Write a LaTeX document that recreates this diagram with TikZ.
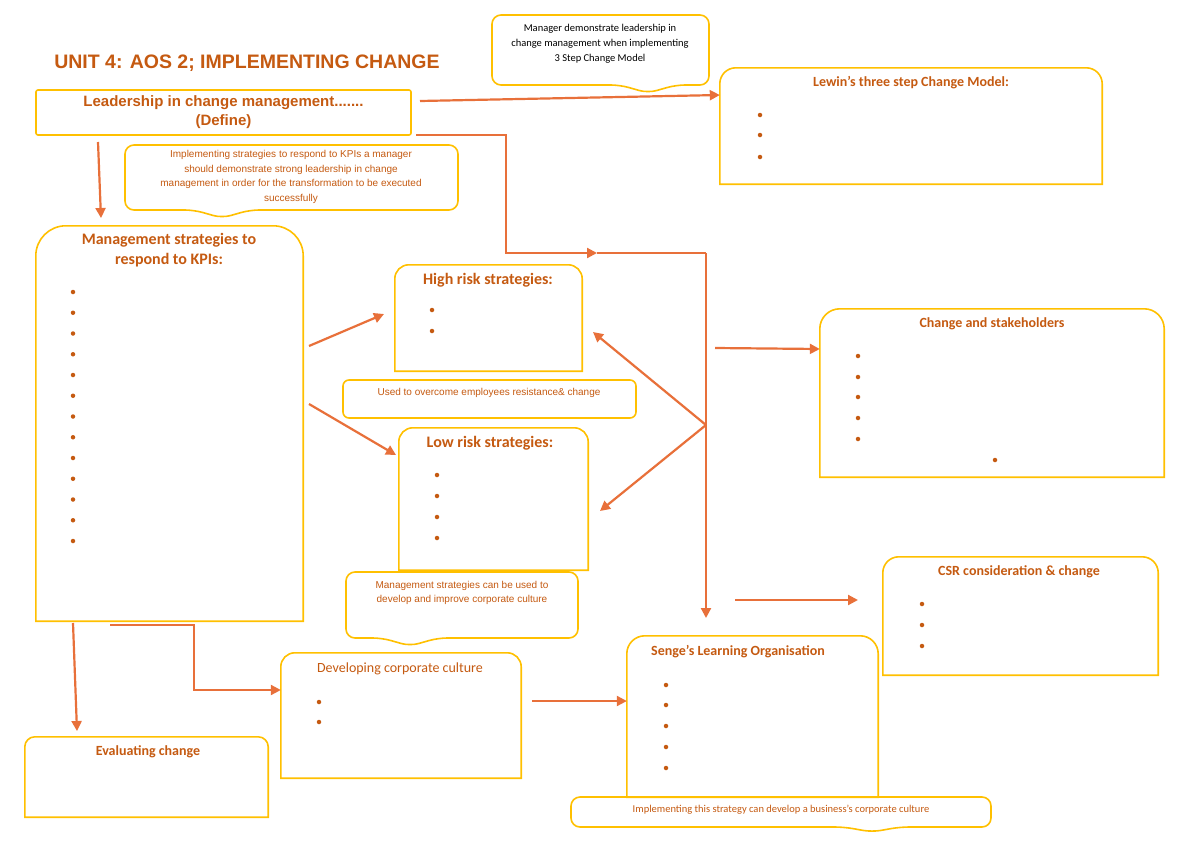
\documentclass[tikz,border=0pt]{standalone}
\usepackage{fontspec}
\setmainfont{Carlito}
\newfontfamily\arialfont{Liberation Sans}
\usetikzlibrary{arrows.meta}
\definecolor{boxcol}{HTML}{FFC000}
\definecolor{txtcol}{HTML}{C55A11}
\definecolor{arrcol}{HTML}{E8703A}
\newcommand{\topbox}[2]{% box with rounded top corners
  \draw[boxline] (#1.south west) [rounded corners=#2] -- (#1.north west) -- (#1.north east) [sharp corners] -- (#1.south east) -- cycle;}
\newcommand{\callout}[6]{% x1 y1 x2 y2 tipx tipy
  \draw[boxline, rounded corners=9pt] (#1,#2) -- (#3,#2) -- (#3,#4) -- (#5+28,#4) -- (#5,#6) -- (#5-28,#4) -- (#1,#4) -- cycle;}
\tikzset{
  boxline/.style={draw=boxcol, line width=1.6pt},
  area/.style={inner sep=0pt, minimum width=#1},
  ttl/.style={text=txtcol, font=\bfseries\fontsize{14}{16}\selectfont, align=center},
  note/.style={text=txtcol, font=\arialfont\fontsize{10}{14.5}\selectfont, align=center},
  bul/.style={circle, fill=txtcol, inner sep=0pt, minimum size=4.5pt},
  link/.style={draw=arrcol, line width=2.2pt, -{Triangle[length=10pt,width=10pt]}},
  seg/.style={draw=arrcol, line width=2.2pt},
}
\begin{document}
\begin{tikzpicture}[x=1pt,y=-1pt]
  \useasboundingbox[fill=white] (0,0) rectangle (1200,849);

  \node[text=txtcol, font=\arialfont\bfseries\fontsize{19.5}{21}\selectfont] (title) at (247,63) {UNIT 4: AOS 2; IMPLEMENTING CHANGE};

  % boxes
  \node[draw=boxcol, line width=1.6pt, rounded corners=2pt, minimum width=375pt, minimum height=45pt, inner sep=0pt] (lead) at (223.5,112.5) {};
  \node[ttl, font=\arialfont\bfseries\fontsize{15}{19}\selectfont] (leadT) at (lead) {Leadership in change management.......\\(Define)};

  \node[area=382pt, minimum height=116pt] (lewin) at (911,126) {};
  \topbox{lewin}{16pt}
  \node[ttl, font=\bfseries\fontsize{14}{16}\selectfont] (lewinT) at (911,83) {Lewin’s three step Change Model:};
  \foreach \y in {115,135,157} \node[bul] at (760,\y) {};

  \node[area=267pt, minimum height=395pt] (mgmt) at (169.5,423.5) {};
  \topbox{mgmt}{30pt}
  \node[ttl, font=\bfseries\fontsize{16}{20}\selectfont] (mgmtT) at (169,250) {Management strategies to\\respond to KPIs:};
  \foreach \i in {0,...,12} \node[bul] at (73,292+20.75*\i) {};

  \node[area=187pt, minimum height=106pt] (high) at (488.5,318) {};
  \topbox{high}{14pt}
  \node[ttl, font=\bfseries\fontsize{16}{18}\selectfont] (highT) at (488,280) {High risk strategies:};
  \foreach \y in {310,331} \node[bul] at (432,\y) {};

  \node[area=189pt, minimum height=142pt] (low) at (493.5,499) {};
  \topbox{low}{14pt}
  \node[ttl, font=\bfseries\fontsize{16}{18}\selectfont] (lowT) at (490,443) {Low risk strategies:};
  \foreach \y in {475,496,517,538} \node[bul] at (437,\y) {};

  \node[area=344pt, minimum height=168pt] (stake) at (992,393) {};
  \topbox{stake}{20pt}
  \node[ttl, font=\bfseries\fontsize{14}{16}\selectfont] (stakeT) at (992,324) {Change and stakeholders};
  \foreach \y in {356,377,397,418,439} \node[bul] at (858,\y) {};
  \node[bul] at (995,460) {};

  \node[area=275pt, minimum height=118pt] (csr) at (1020.5,616) {};
  \topbox{csr}{16pt}
  \node[ttl, font=\bfseries\fontsize{14}{16}\selectfont] (csrT) at (1019,572) {CSR consideration \& change};
  \foreach \y in {604,625,646} \node[bul] at (922,\y) {};

  \node[area=251pt, minimum height=161pt] (senge) at (752.5,716.5) {};
  \topbox{senge}{18pt}
  \node[ttl, font=\bfseries\fontsize{14}{16}\selectfont] (sengeT) at (738,652) {Senge’s Learning Organisation};
  \foreach \y in {685,705,726,747,768} \node[bul] at (666,\y) {};

  \node[area=240pt, minimum height=125pt] (culture) at (401,715.5) {};
  \topbox{culture}{14pt}
  \node[ttl, font=\fontsize{14}{16}\selectfont] (cultureT) at (400,669) {Developing corporate culture};
  \foreach \y in {702,722} \node[bul] at (319,\y) {};

  \node[area=243pt, minimum height=80pt] (eval) at (146.5,777) {};
  \topbox{eval}{10pt}
  \node[ttl, font=\bfseries\fontsize{14}{16}\selectfont] (evalT) at (148,752) {Evaluating change};

  % callouts
  \callout{125}{145}{458}{210}{222}{218}
  \node[note] (kpiNote) at (291,177) {Implementing strategies to respond to KPIs a manager\\should demonstrate strong leadership in change\\management in order for the transformation to be executed\\successfully};
  \callout{492}{15}{709}{85}{648}{93}
  \node[note, font=\fontsize{10.5}{15}\selectfont, text=black] (topNote) at (600,44) {Manager demonstrate leadership in\\change management when implementing\\3 Step Change Model};
  \draw[boxline, rounded corners=6pt] (343,380) rectangle (636,418);
  \node[note] (usedNote) at (489,393) {Used to overcome employees resistance\& change};
  \callout{346}{572}{578}{638}{410}{646}
  \node[note] (cultNote) at (462,593) {Management strategies can be used to\\develop and improve corporate culture};
  \callout{571}{797}{991}{827}{872}{832}
  \node[note, font=\fontsize{10.5}{12}\selectfont] (sengeNote) at (781,810) {Implementing this strategy can develop a business’s corporate culture};

  % connectors
  \coordinate (leadR) at (420,101);
  \coordinate (leadR2) at (416,135);
  \coordinate (turn1) at (506,253);
  \coordinate (mid) at (597,253);
  \coordinate (spine) at (706,253);
  \coordinate (fork) at (706,425);
  \coordinate (leadB) at (98,142);
  \coordinate (mgmtB) at (73,623);
  \coordinate (mgmtB2) at (110,625);
  \draw[link] (leadR) -- (lewin.west |- 0,95);
  \draw[link] (leadR2) -| (turn1) -- (mid);
  \draw[seg] (mid) -- (spine);
  \draw[link] (spine) -- (706,618);
  \draw[link] (leadB) -- (101,218);
  \draw[link] (309,346) -- (384,314);
  \draw[link] (309,404) -- (396,455);
  \draw[link] (fork) -- (593,332);
  \draw[link] (fork) -- (600,511);
  \draw[link] (715,348) -- (stake.west |- 0,349);
  \draw[link] (735,600) -- (858,600);
  \draw[link] (mgmtB) -- (77,731);
  \draw[link] (mgmtB2) -| (194,690) -- (culture.west |- 0,690);
  \draw[link] (532,701) -- (senge.west |- 0,701);
\end{tikzpicture}
\end{document}
